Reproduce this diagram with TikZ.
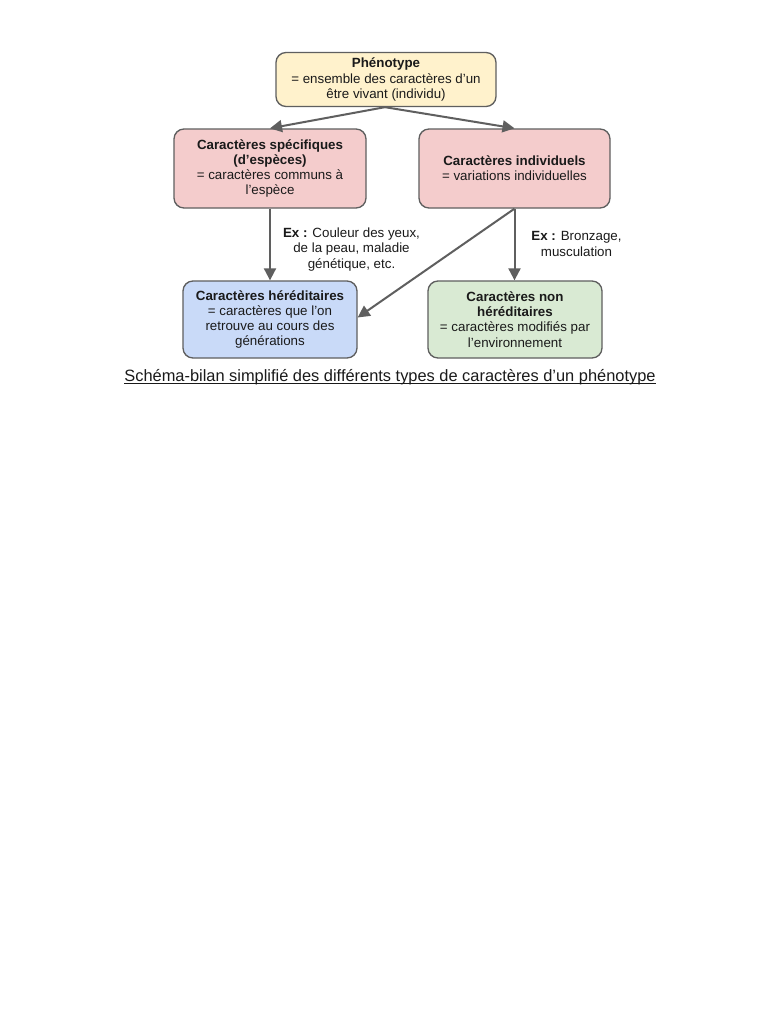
\documentclass[tikz,border=0pt]{standalone}
\usepackage{fontspec}
\setmainfont{Liberation Sans}
\usetikzlibrary{arrows.meta}
\definecolor{bordc}{HTML}{5F5F5F}
\definecolor{yel}{HTML}{FFF2CC}
\definecolor{pink}{HTML}{F4CCCC}
\definecolor{blu}{HTML}{C9DAF8}
\definecolor{grn}{HTML}{D9EAD3}
\definecolor{txt}{HTML}{1A1A1A}
\tikzset{
  box/.style={draw=bordc, line width=1pt, rounded corners=7.5pt, align=center, inner sep=0pt, font=\fontsize{10}{11.4}\selectfont, text=txt},
  conn/.style={draw=bordc, line width=1.5pt, -{Triangle[length=9pt,width=9pt]}},
  note/.style={align=center, font=\fontsize{10}{11.8}\selectfont, text=txt},
}
\begin{document}
\begin{tikzpicture}[x=0.75pt,y=-0.75pt]
\useasboundingbox[fill=white] (0,0) rectangle (768,1024);
\node[box, fill=yel, minimum width=220*0.75pt, minimum height=54*0.75pt] (phen) at (386,79.5) {\textbf{Phénotype}\\= ensemble des caractères d’un\\être vivant (individu)};
\node[box, fill=pink, minimum width=192*0.75pt, minimum height=79*0.75pt] (spec) at (270,168.5) {\textbf{Caractères spécifiques}\\\textbf{(d’espèces)}\\= caractères communs à\\l’espèce};
\node[box, fill=pink, minimum width=191*0.75pt, minimum height=79*0.75pt] (indiv) at (514.5,168.5) {\textbf{Caractères individuels}\\= variations individuelles};
\node[box, fill=blu, minimum width=174*0.75pt, minimum height=77*0.75pt] (hered) at (270,319.5) {\textbf{Caractères héréditaires}\\= caractères que l’on\\retrouve au cours des\\générations};
\node[box, fill=grn, minimum width=174*0.75pt, minimum height=77*0.75pt] (nonh) at (515,319.5) {\textbf{Caractères non}\\\textbf{héréditaires}\\= caractères modifiés par\\l’environnement};
\node[note] (ex1) at (351.5,249.5) {\textbf{Ex :} Couleur des yeux,\\de la peau, maladie\\génétique, etc.};
\node[note] (ex2) at (576.5,244) {\textbf{Ex :} Bronzage,\\musculation};
\node[font=\fontsize{12.3}{14}\selectfont, text=txt, inner sep=0pt, anchor=base] (cap) at (390,381) {Schéma-bilan simplifié des différents types de caractères d’un phénotype};
\draw[txt, line width=0.8pt] ([yshift=-2pt]cap.base west) -- ([yshift=-2pt]cap.base east);
\coordinate (pb) at ([xshift=-0.75pt]phen.south);
\draw[conn] (pb) -- (spec.north);
\draw[conn] (pb) -- (indiv.north);
\draw[conn] (spec.south) -- (hered.north);
\draw[conn] (indiv.south) -- ([yshift=1.5pt]hered.east);
\draw[conn] (indiv.south) -- (indiv.south |- nonh.north);
\end{tikzpicture}
\end{document}
